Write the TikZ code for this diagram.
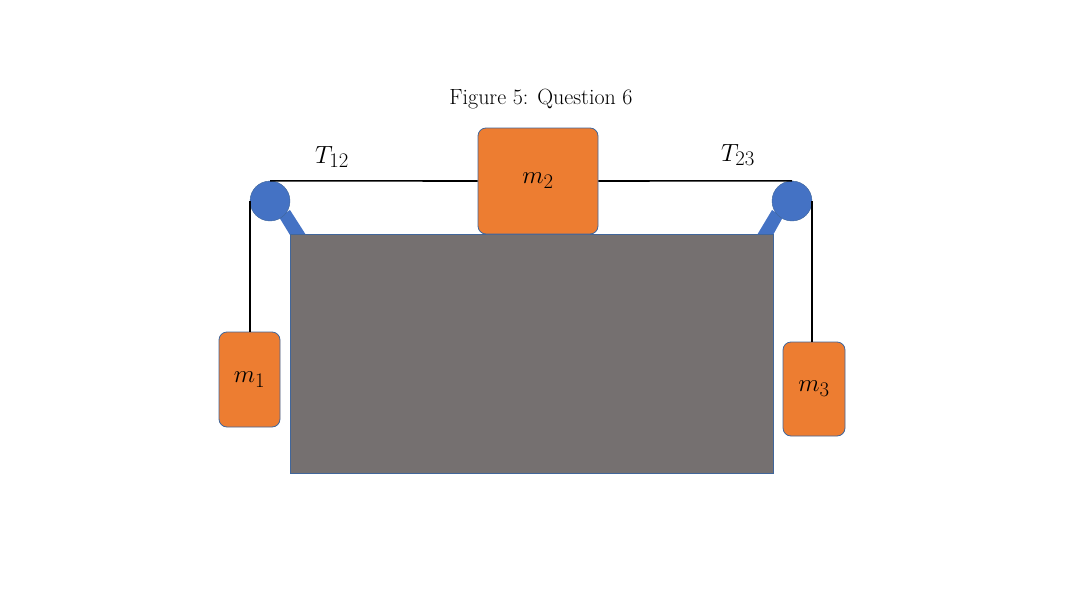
\documentclass[tikz,border=0pt]{standalone}
\definecolor{orng}{RGB}{237,125,49}
\definecolor{blu}{RGB}{68,114,196}
\definecolor{edg}{RGB}{65,102,154}
\definecolor{gry}{RGB}{117,112,112}
\begin{document}
\begin{tikzpicture}[x=1pt,y=-1pt,
  mass/.style={fill=orng,draw=edg,rounded corners=8pt,line width=0.8pt},
  pul/.style={circle,fill=blu,draw=edg,minimum size=40pt,inner sep=0pt},
  rope/.style={line width=1.6pt,black},
  lab/.style={font=\fontsize{30}{32}\selectfont}]
\useasboundingbox (0,0) rectangle (1074,616);
\fill[blu] (279,217) -- (290,210) -- (306,235) -- (290,235) -- cycle;
\fill[blu] (783,217) -- (772,210) -- (757,235) -- (773,235) -- cycle;
\node[fill=gry,draw=edg,line width=0.8pt,minimum width=483pt,minimum height=239pt,inner sep=0pt] (table) at (531.5,353.5) {};
\node[pul] (pl) at (270,201) {};
\node[pul] (pr) at (792,201) {};
\node[mass,minimum width=61pt,minimum height=95pt,inner sep=0pt] (m1) at (249.5,379.5) {};
\node[mass,minimum width=120pt,minimum height=106pt,inner sep=0pt] (m2) at (538,181) {};
\node[mass,minimum width=62pt,minimum height=94pt,inner sep=0pt] (m3) at (814,389) {};
\node[lab] at (m1) {$m_1$};
\node[lab] at (m2) {$m_2$};
\node[lab] at (m3) {$m_3$};
\draw[rope] (pl.north) -- (m2.west);
\draw[rope] (pr.north) -- (m2.east);
\draw[rope] (pl.west) -- (pl.west |- m1.north);
\draw[rope] (pr.east) -- (pr.east |- m3.north);
\node[lab] (t12) at (332,157) {$T_{12}$};
\node[lab] (t23) at (738,155) {$T_{23}$};
\node[font=\fontsize{22}{24}\selectfont] (title) at (541,99) {Figure 5: Question 6};
\end{tikzpicture}
\end{document}
